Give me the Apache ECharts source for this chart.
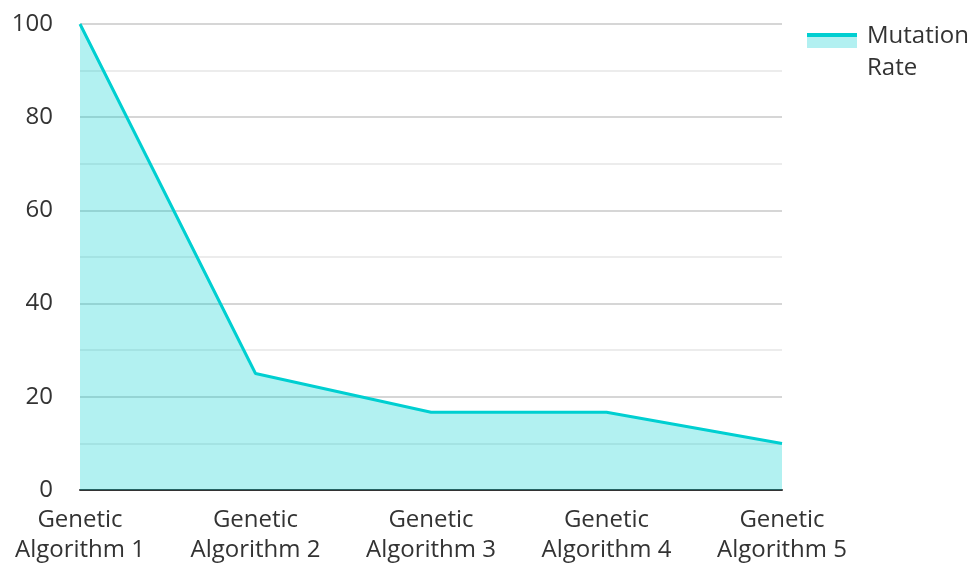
<!DOCTYPE html>
<html><head><meta charset="utf-8">
<script src="https://cdn.jsdelivr.net/npm/echarts@6/dist/echarts.min.js"></script>
<style>html,body{margin:0;padding:0;background:#fff}#c{width:974px;height:566px}</style>
</head><body><div id="c"></div>
<script>
const categories = ['Genetic\nAlgorithm 1','Genetic\nAlgorithm 2','Genetic\nAlgorithm 3','Genetic\nAlgorithm 4','Genetic\nAlgorithm 5'];
const mutationRate = [100, 25, 16.7, 16.7, 10];
const seriesName = 'Mutation Rate';
const FONT = '"Open Sans", "Noto Sans", sans-serif';
const iconSvg = 'image://data:image/svg+xml;utf8,' + encodeURIComponent('<svg xmlns="http://www.w3.org/2000/svg" width="50" height="38"><rect x="0" y="0" width="50" height="15" fill="#b2f0f1"/><rect x="0" y="0" width="50" height="4" fill="#00cfd1"/></svg>');
const chart = echarts.init(document.getElementById('c'));
chart.setOption({
  animation: false,
  textStyle: {fontFamily: FONT},
  grid: {left: 80, right: 192, top: 24, bottom: 76},
  legend: {
    left: 807, top: 20, padding: 0, orient: 'vertical',
    icon: iconSvg, itemWidth: 50, itemHeight: 38, itemGap: 10,
    textStyle: {fontFamily: FONT, fontSize: 24, color: '#333', width: 110, overflow: 'break', lineHeight: 32, padding: [0, 0, 0, 5]},
    data: [seriesName]
  },
  xAxis: {
    type: 'category', data: categories, boundaryGap: false,
    axisLine: {lineStyle: {color: '#333', width: 2}},
    axisTick: {show: false},
    axisLabel: {fontFamily: FONT, fontSize: 24, color: '#333', lineHeight: 30, margin: 15, interval: 0}
  },
  yAxis: {
    type: 'value', min: 0, max: 100, interval: 20,
    axisLine: {show: false}, axisTick: {show: false},
    axisLabel: {fontFamily: FONT, fontSize: 24, color: '#333', margin: 27},
    splitLine: {lineStyle: {color: '#c8c8c8', width: 1.5}},
    minorTick: {show: false, splitNumber: 2},
    minorSplitLine: {show: true, lineStyle: {color: '#e6e6e6', width: 1.5}}
  },
  series: [{
    name: seriesName, type: 'line', data: mutationRate,
    symbol: 'none', lineStyle: {color: '#00cfd1', width: 3},
    itemStyle: {color: '#00cfd1'},
    areaStyle: {color: '#00cfd1', opacity: 0.3}
  }]
});
</script></body></html>
